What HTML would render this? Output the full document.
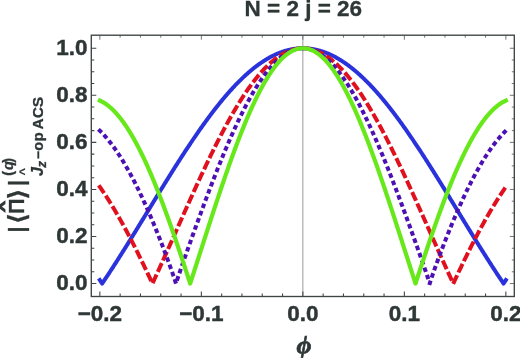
<!DOCTYPE html>
<html><head><meta charset="utf-8"><style>html,body{margin:0;padding:0;background:#fff;}svg{display:block;}</style></head>
<body><svg width="520" height="358" viewBox="0 0 520 358"><line x1="302.85" y1="35.2" x2="302.85" y2="296.5" stroke="#999" stroke-width="1"/><polyline points="99.85,280.10 100.36,280.85 100.87,281.60 101.37,282.35 101.88,283.10 102.18,283.55 102.39,283.25 102.90,282.49 103.40,281.74 103.91,280.98 104.42,280.22 104.93,279.46 105.43,278.69 105.94,277.93 106.45,277.16 106.96,276.39 107.46,275.62 107.97,274.85 108.48,274.08 108.99,273.31 109.49,272.53 110.00,271.75 110.51,270.98 111.02,270.20 111.52,269.42 112.03,268.63 112.54,267.85 113.05,267.07 113.55,266.28 114.06,265.49 114.57,264.70 115.08,263.91 115.58,263.12 116.09,262.33 116.60,261.54 117.11,260.74 117.61,259.95 118.12,259.15 118.63,258.35 119.13,257.55 119.64,256.75 120.15,255.95 120.66,255.15 121.16,254.35 121.67,253.54 122.18,252.74 122.69,251.93 123.19,251.12 123.70,250.31 124.21,249.51 124.72,248.70 125.22,247.88 125.73,247.07 126.24,246.26 126.75,245.45 127.25,244.63 127.76,243.82 128.27,243.00 128.78,242.18 129.28,241.37 129.79,240.55 130.30,239.73 130.81,238.91 131.31,238.09 131.82,237.27 132.33,236.45 132.84,235.63 133.34,234.80 133.85,233.98 134.36,233.16 134.87,232.33 135.38,231.51 135.88,230.68 136.39,229.86 136.90,229.03 137.41,228.20 137.91,227.38 138.42,226.55 138.93,225.72 139.44,224.89 139.94,224.07 140.45,223.24 140.96,222.41 141.47,221.58 141.97,220.75 142.48,219.92 142.99,219.09 143.50,218.26 144.00,217.43 144.51,216.60 145.02,215.77 145.53,214.94 146.03,214.11 146.54,213.27 147.05,212.44 147.56,211.61 148.06,210.78 148.57,209.95 149.08,209.12 149.59,208.29 150.09,207.46 150.60,206.63 151.11,205.80 151.62,204.96 152.12,204.13 152.63,203.30 153.14,202.47 153.65,201.64 154.15,200.81 154.66,199.98 155.17,199.16 155.68,198.33 156.18,197.50 156.69,196.67 157.20,195.84 157.71,195.01 158.21,194.19 158.72,193.36 159.23,192.53 159.74,191.71 160.24,190.88 160.75,190.06 161.26,189.23 161.77,188.41 162.27,187.59 162.78,186.76 163.29,185.94 163.80,185.12 164.30,184.30 164.81,183.48 165.32,182.66 165.83,181.84 166.33,181.02 166.84,180.21 167.35,179.39 167.86,178.57 168.36,177.76 168.87,176.95 169.38,176.13 169.89,175.32 170.39,174.51 170.90,173.70 171.41,172.89 171.92,172.08 172.42,171.27 172.93,170.47 173.44,169.66 173.95,168.86 174.45,168.05 174.96,167.25 175.47,166.45 175.98,165.65 176.48,164.85 176.99,164.05 177.50,163.25 178.00,162.46 178.51,161.66 179.02,160.87 179.53,160.08 180.04,159.29 180.54,158.50 181.05,157.71 181.56,156.92 182.06,156.14 182.57,155.36 183.08,154.57 183.59,153.79 184.10,153.01 184.60,152.23 185.11,151.46 185.62,150.68 186.12,149.91 186.63,149.14 187.14,148.37 187.65,147.60 188.16,146.83 188.66,146.07 189.17,145.30 189.68,144.54 190.19,143.78 190.69,143.02 191.20,142.26 191.71,141.51 192.22,140.75 192.72,140.00 193.23,139.25 193.74,138.50 194.25,137.76 194.75,137.01 195.26,136.27 195.77,135.53 196.28,134.79 196.78,134.06 197.29,133.32 197.80,132.59 198.31,131.86 198.81,131.13 199.32,130.40 199.83,129.68 200.34,128.96 200.84,128.24 201.35,127.52 201.86,126.80 202.37,126.09 202.87,125.38 203.38,124.67 203.89,123.96 204.40,123.25 204.90,122.55 205.41,121.85 205.92,121.15 206.43,120.46 206.93,119.76 207.44,119.07 207.95,118.38 208.46,117.70 208.96,117.01 209.47,116.33 209.98,115.65 210.49,114.98 210.99,114.30 211.50,113.63 212.01,112.96 212.52,112.29 213.02,111.63 213.53,110.97 214.04,110.31 214.55,109.65 215.05,109.00 215.56,108.35 216.07,107.70 216.58,107.06 217.08,106.41 217.59,105.77 218.10,105.14 218.61,104.50 219.11,103.87 219.62,103.24 220.13,102.61 220.64,101.99 221.14,101.37 221.65,100.75 222.16,100.14 222.67,99.53 223.17,98.92 223.68,98.31 224.19,97.71 224.69,97.11 225.20,96.51 225.71,95.92 226.22,95.33 226.73,94.74 227.23,94.15 227.74,93.57 228.25,92.99 228.75,92.42 229.26,91.84 229.77,91.27 230.28,90.71 230.79,90.14 231.29,89.58 231.80,89.03 232.31,88.47 232.81,87.92 233.32,87.38 233.83,86.83 234.34,86.29 234.85,85.75 235.35,85.22 235.86,84.69 236.37,84.16 236.88,83.64 237.38,83.12 237.89,82.60 238.40,82.09 238.91,81.58 239.41,81.07 239.92,80.56 240.43,80.06 240.94,79.57 241.44,79.07 241.95,78.58 242.46,78.10 242.97,77.61 243.47,77.14 243.98,76.66 244.49,76.19 245.00,75.72 245.50,75.25 246.01,74.79 246.52,74.33 247.03,73.88 247.53,73.43 248.04,72.98 248.55,72.54 249.06,72.10 249.56,71.66 250.07,71.23 250.58,70.80 251.09,70.38 251.59,69.96 252.10,69.54 252.61,69.12 253.12,68.71 253.62,68.31 254.13,67.91 254.64,67.51 255.15,67.11 255.65,66.72 256.16,66.33 256.67,65.95 257.18,65.57 257.68,65.20 258.19,64.82 258.70,64.46 259.21,64.09 259.71,63.73 260.22,63.38 260.73,63.02 261.24,62.68 261.74,62.33 262.25,61.99 262.76,61.66 263.26,61.32 263.77,60.99 264.28,60.67 264.79,60.35 265.30,60.03 265.80,59.72 266.31,59.41 266.82,59.11 267.33,58.81 267.83,58.51 268.34,58.22 268.85,57.93 269.36,57.65 269.86,57.37 270.37,57.09 270.88,56.82 271.39,56.55 271.89,56.29 272.40,56.03 272.91,55.78 273.42,55.53 273.92,55.28 274.43,55.04 274.94,54.80 275.45,54.56 275.95,54.33 276.46,54.11 276.97,53.89 277.48,53.67 277.98,53.45 278.49,53.25 279.00,53.04 279.50,52.84 280.01,52.64 280.52,52.45 281.03,52.26 281.54,52.08 282.04,51.90 282.55,51.73 283.06,51.55 283.56,51.39 284.07,51.23 284.58,51.07 285.09,50.91 285.60,50.76 286.10,50.62 286.61,50.48 287.12,50.34 287.62,50.21 288.13,50.08 288.64,49.96 289.15,49.84 289.66,49.72 290.16,49.61 290.67,49.50 291.18,49.40 291.69,49.30 292.19,49.21 292.70,49.12 293.21,49.04 293.72,48.96 294.22,48.88 294.73,48.81 295.24,48.74 295.75,48.68 296.25,48.62 296.76,48.56 297.27,48.51 297.78,48.47 298.28,48.43 298.79,48.39 299.30,48.36 299.81,48.33 300.31,48.30 300.82,48.28 301.33,48.27 301.84,48.26 302.34,48.25 302.85,48.25 303.36,48.25 303.87,48.26 304.37,48.27 304.88,48.28 305.39,48.30 305.90,48.33 306.40,48.36 306.91,48.39 307.42,48.43 307.93,48.47 308.43,48.51 308.94,48.56 309.45,48.62 309.96,48.68 310.46,48.74 310.97,48.81 311.48,48.88 311.99,48.96 312.49,49.04 313.00,49.12 313.51,49.21 314.01,49.30 314.52,49.40 315.03,49.50 315.54,49.61 316.05,49.72 316.55,49.84 317.06,49.96 317.57,50.08 318.07,50.21 318.58,50.34 319.09,50.48 319.60,50.62 320.11,50.76 320.61,50.91 321.12,51.07 321.63,51.23 322.13,51.39 322.64,51.55 323.15,51.73 323.66,51.90 324.17,52.08 324.67,52.26 325.18,52.45 325.69,52.64 326.19,52.84 326.70,53.04 327.21,53.25 327.72,53.45 328.23,53.67 328.73,53.89 329.24,54.11 329.75,54.33 330.25,54.56 330.76,54.80 331.27,55.04 331.78,55.28 332.29,55.53 332.79,55.78 333.30,56.03 333.81,56.29 334.31,56.55 334.82,56.82 335.33,57.09 335.84,57.37 336.35,57.65 336.85,57.93 337.36,58.22 337.87,58.51 338.38,58.81 338.88,59.11 339.39,59.41 339.90,59.72 340.41,60.03 340.91,60.35 341.42,60.67 341.93,60.99 342.44,61.32 342.94,61.66 343.45,61.99 343.96,62.33 344.47,62.68 344.97,63.02 345.48,63.38 345.99,63.73 346.50,64.09 347.00,64.46 347.51,64.82 348.02,65.20 348.52,65.57 349.03,65.95 349.54,66.33 350.05,66.72 350.56,67.11 351.06,67.51 351.57,67.91 352.08,68.31 352.59,68.71 353.09,69.12 353.60,69.54 354.11,69.96 354.62,70.38 355.12,70.80 355.63,71.23 356.14,71.66 356.65,72.10 357.15,72.54 357.66,72.98 358.17,73.43 358.68,73.88 359.18,74.33 359.69,74.79 360.20,75.25 360.71,75.72 361.21,76.19 361.72,76.66 362.23,77.14 362.74,77.61 363.24,78.10 363.75,78.58 364.26,79.07 364.77,79.57 365.27,80.06 365.78,80.56 366.29,81.07 366.80,81.58 367.30,82.09 367.81,82.60 368.32,83.12 368.83,83.64 369.33,84.16 369.84,84.69 370.35,85.22 370.86,85.75 371.36,86.29 371.87,86.83 372.38,87.38 372.89,87.92 373.39,88.47 373.90,89.03 374.41,89.58 374.92,90.14 375.42,90.71 375.93,91.27 376.44,91.84 376.95,92.42 377.45,92.99 377.96,93.57 378.47,94.15 378.98,94.74 379.48,95.33 379.99,95.92 380.50,96.51 381.01,97.11 381.51,97.71 382.02,98.31 382.53,98.92 383.04,99.53 383.54,100.14 384.05,100.75 384.56,101.37 385.07,101.99 385.57,102.61 386.08,103.24 386.59,103.87 387.10,104.50 387.60,105.14 388.11,105.77 388.62,106.41 389.13,107.06 389.63,107.70 390.14,108.35 390.65,109.00 391.16,109.65 391.66,110.31 392.17,110.97 392.68,111.63 393.19,112.29 393.69,112.96 394.20,113.63 394.71,114.30 395.21,114.98 395.72,115.65 396.23,116.33 396.74,117.01 397.25,117.70 397.75,118.38 398.26,119.07 398.77,119.76 399.27,120.46 399.78,121.15 400.29,121.85 400.80,122.55 401.31,123.25 401.81,123.96 402.32,124.67 402.83,125.38 403.33,126.09 403.84,126.80 404.35,127.52 404.86,128.24 405.37,128.96 405.87,129.68 406.38,130.40 406.89,131.13 407.39,131.86 407.90,132.59 408.41,133.32 408.92,134.06 409.43,134.79 409.93,135.53 410.44,136.27 410.95,137.01 411.46,137.76 411.96,138.50 412.47,139.25 412.98,140.00 413.49,140.75 413.99,141.51 414.50,142.26 415.01,143.02 415.51,143.78 416.02,144.54 416.53,145.30 417.04,146.07 417.55,146.83 418.05,147.60 418.56,148.37 419.07,149.14 419.58,149.91 420.08,150.68 420.59,151.46 421.10,152.23 421.61,153.01 422.11,153.79 422.62,154.57 423.13,155.36 423.63,156.14 424.14,156.92 424.65,157.71 425.16,158.50 425.67,159.29 426.17,160.08 426.68,160.87 427.19,161.66 427.70,162.46 428.20,163.25 428.71,164.05 429.22,164.85 429.73,165.65 430.23,166.45 430.74,167.25 431.25,168.05 431.75,168.86 432.26,169.66 432.77,170.47 433.28,171.27 433.79,172.08 434.29,172.89 434.80,173.70 435.31,174.51 435.82,175.32 436.32,176.13 436.83,176.95 437.34,177.76 437.85,178.57 438.35,179.39 438.86,180.21 439.37,181.02 439.88,181.84 440.38,182.66 440.89,183.48 441.40,184.30 441.91,185.12 442.41,185.94 442.92,186.76 443.43,187.59 443.94,188.41 444.44,189.23 444.95,190.06 445.46,190.88 445.97,191.71 446.47,192.53 446.98,193.36 447.49,194.19 448.00,195.01 448.50,195.84 449.01,196.67 449.52,197.50 450.03,198.33 450.53,199.16 451.04,199.98 451.55,200.81 452.06,201.64 452.56,202.47 453.07,203.30 453.58,204.13 454.09,204.96 454.59,205.80 455.10,206.63 455.61,207.46 456.12,208.29 456.62,209.12 457.13,209.95 457.64,210.78 458.14,211.61 458.65,212.44 459.16,213.27 459.67,214.11 460.17,214.94 460.68,215.77 461.19,216.60 461.70,217.43 462.20,218.26 462.71,219.09 463.22,219.92 463.73,220.75 464.24,221.58 464.74,222.41 465.25,223.24 465.76,224.07 466.26,224.89 466.77,225.72 467.28,226.55 467.79,227.38 468.29,228.20 468.80,229.03 469.31,229.86 469.82,230.68 470.32,231.51 470.83,232.33 471.34,233.16 471.85,233.98 472.36,234.80 472.86,235.63 473.37,236.45 473.88,237.27 474.38,238.09 474.89,238.91 475.40,239.73 475.91,240.55 476.42,241.37 476.92,242.18 477.43,243.00 477.94,243.82 478.45,244.63 478.95,245.45 479.46,246.26 479.97,247.07 480.48,247.88 480.98,248.70 481.49,249.51 482.00,250.31 482.50,251.12 483.01,251.93 483.52,252.74 484.03,253.54 484.54,254.35 485.04,255.15 485.55,255.95 486.06,256.75 486.57,257.55 487.07,258.35 487.58,259.15 488.09,259.95 488.60,260.74 489.10,261.54 489.61,262.33 490.12,263.12 490.62,263.91 491.13,264.70 491.64,265.49 492.15,266.28 492.66,267.07 493.16,267.85 493.67,268.63 494.18,269.42 494.69,270.20 495.19,270.98 495.70,271.75 496.21,272.53 496.72,273.31 497.22,274.08 497.73,274.85 498.24,275.62 498.75,276.39 499.25,277.16 499.76,277.93 500.27,278.69 500.78,279.46 501.28,280.22 501.79,280.98 502.30,281.74 502.81,282.49 503.31,283.25 503.52,283.55 503.82,283.10 504.33,282.35 504.84,281.60 505.34,280.85 505.85,280.10" fill="none" stroke="#2a32dc" stroke-width="4.0" stroke-linejoin="round" stroke-linecap="square"/><polyline points="99.85,186.96 100.36,187.68 100.87,188.41 101.37,189.14 101.88,189.88 102.39,190.62 102.90,191.37 103.40,192.12 103.91,192.88 104.42,193.64 104.93,194.41 105.43,195.18 105.94,195.95 106.45,196.73 106.96,197.52 107.46,198.31 107.97,199.10 108.48,199.90 108.99,200.70 109.49,201.51 110.00,202.32 110.51,203.14 111.02,203.96 111.52,204.79 112.03,205.62 112.54,206.45 113.05,207.29 113.55,208.13 114.06,208.98 114.57,209.83 115.08,210.69 115.58,211.55 116.09,212.41 116.60,213.28 117.11,214.16 117.61,215.03 118.12,215.92 118.63,216.80 119.13,217.69 119.64,218.58 120.15,219.48 120.66,220.38 121.16,221.29 121.67,222.20 122.18,223.11 122.69,224.03 123.19,224.95 123.70,225.88 124.21,226.81 124.72,227.74 125.22,228.68 125.73,229.62 126.24,230.56 126.75,231.51 127.25,232.46 127.76,233.41 128.27,234.37 128.78,235.33 129.28,236.30 129.79,237.27 130.30,238.24 130.81,239.22 131.31,240.20 131.82,241.18 132.33,242.17 132.84,243.16 133.34,244.15 133.85,245.15 134.36,246.15 134.87,247.15 135.38,248.15 135.88,249.16 136.39,250.17 136.90,251.19 137.41,252.21 137.91,253.23 138.42,254.25 138.93,255.28 139.44,256.31 139.94,257.34 140.45,258.38 140.96,259.42 141.47,260.46 141.97,261.50 142.48,262.55 142.99,263.60 143.50,264.65 144.00,265.70 144.51,266.76 145.02,267.82 145.53,268.88 146.03,269.94 146.54,271.01 147.05,272.08 147.56,273.15 148.06,274.23 148.57,275.30 149.08,276.38 149.59,277.46 150.09,278.54 150.60,279.63 151.11,280.71 151.62,281.80 152.12,282.89 152.43,283.55 152.63,283.11 153.14,282.02 153.65,280.92 154.15,279.82 154.66,278.72 155.17,277.62 155.68,276.52 156.18,275.41 156.69,274.30 157.20,273.19 157.71,272.08 158.21,270.97 158.72,269.86 159.23,268.74 159.74,267.63 160.24,266.51 160.75,265.39 161.26,264.27 161.77,263.15 162.27,262.03 162.78,260.90 163.29,259.78 163.80,258.65 164.30,257.52 164.81,256.40 165.32,255.27 165.83,254.14 166.33,253.00 166.84,251.87 167.35,250.74 167.86,249.61 168.36,248.47 168.87,247.34 169.38,246.20 169.89,245.06 170.39,243.93 170.90,242.79 171.41,241.65 171.92,240.51 172.42,239.38 172.93,238.24 173.44,237.10 173.95,235.96 174.45,234.82 174.96,233.68 175.47,232.54 175.98,231.40 176.48,230.26 176.99,229.12 177.50,227.98 178.00,226.84 178.51,225.70 179.02,224.56 179.53,223.42 180.04,222.28 180.54,221.14 181.05,220.00 181.56,218.86 182.06,217.72 182.57,216.58 183.08,215.45 183.59,214.31 184.10,213.17 184.60,212.04 185.11,210.90 185.62,209.77 186.12,208.63 186.63,207.50 187.14,206.37 187.65,205.24 188.16,204.11 188.66,202.98 189.17,201.85 189.68,200.73 190.19,199.60 190.69,198.48 191.20,197.35 191.71,196.23 192.22,195.11 192.72,193.99 193.23,192.87 193.74,191.75 194.25,190.64 194.75,189.53 195.26,188.41 195.77,187.30 196.28,186.19 196.78,185.09 197.29,183.98 197.80,182.88 198.31,181.77 198.81,180.67 199.32,179.58 199.83,178.48 200.34,177.38 200.84,176.29 201.35,175.20 201.86,174.11 202.37,173.03 202.87,171.94 203.38,170.86 203.89,169.78 204.40,168.70 204.90,167.63 205.41,166.56 205.92,165.49 206.43,164.42 206.93,163.35 207.44,162.29 207.95,161.23 208.46,160.17 208.96,159.12 209.47,158.07 209.98,157.02 210.49,155.97 210.99,154.93 211.50,153.89 212.01,152.85 212.52,151.82 213.02,150.79 213.53,149.76 214.04,148.73 214.55,147.71 215.05,146.69 215.56,145.68 216.07,144.66 216.58,143.65 217.08,142.65 217.59,141.65 218.10,140.65 218.61,139.65 219.11,138.66 219.62,137.67 220.13,136.69 220.64,135.71 221.14,134.73 221.65,133.75 222.16,132.79 222.67,131.82 223.17,130.86 223.68,129.90 224.19,128.94 224.69,127.99 225.20,127.05 225.71,126.10 226.22,125.17 226.73,124.23 227.23,123.30 227.74,122.38 228.25,121.45 228.75,120.54 229.26,119.62 229.77,118.71 230.28,117.81 230.79,116.91 231.29,116.01 231.80,115.12 232.31,114.24 232.81,113.35 233.32,112.48 233.83,111.60 234.34,110.73 234.85,109.87 235.35,109.01 235.86,108.16 236.37,107.31 236.88,106.46 237.38,105.62 237.89,104.79 238.40,103.96 238.91,103.14 239.41,102.32 239.92,101.50 240.43,100.69 240.94,99.89 241.44,99.09 241.95,98.29 242.46,97.51 242.97,96.72 243.47,95.94 243.98,95.17 244.49,94.40 245.00,93.64 245.50,92.88 246.01,92.13 246.52,91.39 247.03,90.65 247.53,89.91 248.04,89.18 248.55,88.46 249.06,87.74 249.56,87.03 250.07,86.32 250.58,85.62 251.09,84.92 251.59,84.23 252.10,83.55 252.61,82.87 253.12,82.20 253.62,81.53 254.13,80.87 254.64,80.22 255.15,79.57 255.65,78.93 256.16,78.29 256.67,77.66 257.18,77.04 257.68,76.42 258.19,75.81 258.70,75.20 259.21,74.60 259.71,74.01 260.22,73.42 260.73,72.84 261.24,72.26 261.74,71.69 262.25,71.13 262.76,70.58 263.26,70.03 263.77,69.48 264.28,68.95 264.79,68.42 265.30,67.89 265.80,67.37 266.31,66.86 266.82,66.36 267.33,65.86 267.83,65.37 268.34,64.89 268.85,64.41 269.36,63.94 269.86,63.47 270.37,63.01 270.88,62.56 271.39,62.12 271.89,61.68 272.40,61.25 272.91,60.82 273.42,60.41 273.92,60.00 274.43,59.59 274.94,59.20 275.45,58.80 275.95,58.42 276.46,58.04 276.97,57.68 277.48,57.31 277.98,56.96 278.49,56.61 279.00,56.27 279.50,55.93 280.01,55.60 280.52,55.28 281.03,54.97 281.54,54.66 282.04,54.36 282.55,54.07 283.06,53.78 283.56,53.50 284.07,53.23 284.58,52.97 285.09,52.71 285.60,52.46 286.10,52.22 286.61,51.98 287.12,51.75 287.62,51.53 288.13,51.32 288.64,51.11 289.15,50.91 289.66,50.72 290.16,50.53 290.67,50.35 291.18,50.18 291.69,50.02 292.19,49.86 292.70,49.71 293.21,49.57 293.72,49.43 294.22,49.31 294.73,49.19 295.24,49.07 295.75,48.97 296.25,48.87 296.76,48.78 297.27,48.69 297.78,48.62 298.28,48.55 298.79,48.48 299.30,48.43 299.81,48.38 300.31,48.34 300.82,48.31 301.33,48.28 301.84,48.26 302.34,48.25 302.85,48.25 303.36,48.25 303.87,48.26 304.37,48.28 304.88,48.31 305.39,48.34 305.90,48.38 306.40,48.43 306.91,48.48 307.42,48.55 307.93,48.62 308.43,48.69 308.94,48.78 309.45,48.87 309.96,48.97 310.46,49.07 310.97,49.19 311.48,49.31 311.99,49.43 312.49,49.57 313.00,49.71 313.51,49.86 314.01,50.02 314.52,50.18 315.03,50.35 315.54,50.53 316.05,50.72 316.55,50.91 317.06,51.11 317.57,51.32 318.07,51.53 318.58,51.75 319.09,51.98 319.60,52.22 320.11,52.46 320.61,52.71 321.12,52.97 321.63,53.23 322.13,53.50 322.64,53.78 323.15,54.07 323.66,54.36 324.17,54.66 324.67,54.97 325.18,55.28 325.69,55.60 326.19,55.93 326.70,56.27 327.21,56.61 327.72,56.96 328.23,57.31 328.73,57.68 329.24,58.04 329.75,58.42 330.25,58.80 330.76,59.20 331.27,59.59 331.78,60.00 332.29,60.41 332.79,60.82 333.30,61.25 333.81,61.68 334.31,62.12 334.82,62.56 335.33,63.01 335.84,63.47 336.35,63.94 336.85,64.41 337.36,64.89 337.87,65.37 338.38,65.86 338.88,66.36 339.39,66.86 339.90,67.37 340.41,67.89 340.91,68.42 341.42,68.95 341.93,69.48 342.44,70.03 342.94,70.58 343.45,71.13 343.96,71.69 344.47,72.26 344.97,72.84 345.48,73.42 345.99,74.01 346.50,74.60 347.00,75.20 347.51,75.81 348.02,76.42 348.52,77.04 349.03,77.66 349.54,78.29 350.05,78.93 350.56,79.57 351.06,80.22 351.57,80.87 352.08,81.53 352.59,82.20 353.09,82.87 353.60,83.55 354.11,84.23 354.62,84.92 355.12,85.62 355.63,86.32 356.14,87.03 356.65,87.74 357.15,88.46 357.66,89.18 358.17,89.91 358.68,90.65 359.18,91.39 359.69,92.13 360.20,92.88 360.71,93.64 361.21,94.40 361.72,95.17 362.23,95.94 362.74,96.72 363.24,97.51 363.75,98.29 364.26,99.09 364.77,99.89 365.27,100.69 365.78,101.50 366.29,102.32 366.80,103.14 367.30,103.96 367.81,104.79 368.32,105.62 368.83,106.46 369.33,107.31 369.84,108.16 370.35,109.01 370.86,109.87 371.36,110.73 371.87,111.60 372.38,112.48 372.89,113.35 373.39,114.24 373.90,115.12 374.41,116.01 374.92,116.91 375.42,117.81 375.93,118.71 376.44,119.62 376.95,120.54 377.45,121.45 377.96,122.38 378.47,123.30 378.98,124.23 379.48,125.17 379.99,126.10 380.50,127.05 381.01,127.99 381.51,128.94 382.02,129.90 382.53,130.86 383.04,131.82 383.54,132.79 384.05,133.75 384.56,134.73 385.07,135.71 385.57,136.69 386.08,137.67 386.59,138.66 387.10,139.65 387.60,140.65 388.11,141.65 388.62,142.65 389.13,143.65 389.63,144.66 390.14,145.68 390.65,146.69 391.16,147.71 391.66,148.73 392.17,149.76 392.68,150.79 393.19,151.82 393.69,152.85 394.20,153.89 394.71,154.93 395.21,155.97 395.72,157.02 396.23,158.07 396.74,159.12 397.25,160.17 397.75,161.23 398.26,162.29 398.77,163.35 399.27,164.42 399.78,165.49 400.29,166.56 400.80,167.63 401.31,168.70 401.81,169.78 402.32,170.86 402.83,171.94 403.33,173.03 403.84,174.11 404.35,175.20 404.86,176.29 405.37,177.38 405.87,178.48 406.38,179.58 406.89,180.67 407.39,181.77 407.90,182.88 408.41,183.98 408.92,185.09 409.43,186.19 409.93,187.30 410.44,188.41 410.95,189.53 411.46,190.64 411.96,191.75 412.47,192.87 412.98,193.99 413.49,195.11 413.99,196.23 414.50,197.35 415.01,198.48 415.51,199.60 416.02,200.73 416.53,201.85 417.04,202.98 417.55,204.11 418.05,205.24 418.56,206.37 419.07,207.50 419.58,208.63 420.08,209.77 420.59,210.90 421.10,212.04 421.61,213.17 422.11,214.31 422.62,215.45 423.13,216.58 423.63,217.72 424.14,218.86 424.65,220.00 425.16,221.14 425.67,222.28 426.17,223.42 426.68,224.56 427.19,225.70 427.70,226.84 428.20,227.98 428.71,229.12 429.22,230.26 429.73,231.40 430.23,232.54 430.74,233.68 431.25,234.82 431.75,235.96 432.26,237.10 432.77,238.24 433.28,239.38 433.79,240.51 434.29,241.65 434.80,242.79 435.31,243.93 435.82,245.06 436.32,246.20 436.83,247.34 437.34,248.47 437.85,249.61 438.35,250.74 438.86,251.87 439.37,253.00 439.88,254.14 440.38,255.27 440.89,256.40 441.40,257.52 441.91,258.65 442.41,259.78 442.92,260.90 443.43,262.03 443.94,263.15 444.44,264.27 444.95,265.39 445.46,266.51 445.97,267.63 446.47,268.74 446.98,269.86 447.49,270.97 448.00,272.08 448.50,273.19 449.01,274.30 449.52,275.41 450.03,276.52 450.53,277.62 451.04,278.72 451.55,279.82 452.06,280.92 452.56,282.02 453.07,283.11 453.27,283.55 453.58,282.89 454.09,281.80 454.59,280.71 455.10,279.63 455.61,278.54 456.12,277.46 456.62,276.38 457.13,275.30 457.64,274.23 458.14,273.15 458.65,272.08 459.16,271.01 459.67,269.94 460.17,268.88 460.68,267.82 461.19,266.76 461.70,265.70 462.20,264.65 462.71,263.60 463.22,262.55 463.73,261.50 464.24,260.46 464.74,259.42 465.25,258.38 465.76,257.34 466.26,256.31 466.77,255.28 467.28,254.25 467.79,253.23 468.29,252.21 468.80,251.19 469.31,250.17 469.82,249.16 470.32,248.15 470.83,247.15 471.34,246.15 471.85,245.15 472.36,244.15 472.86,243.16 473.37,242.17 473.88,241.18 474.38,240.20 474.89,239.22 475.40,238.24 475.91,237.27 476.42,236.30 476.92,235.33 477.43,234.37 477.94,233.41 478.45,232.46 478.95,231.51 479.46,230.56 479.97,229.62 480.48,228.68 480.98,227.74 481.49,226.81 482.00,225.88 482.50,224.95 483.01,224.03 483.52,223.11 484.03,222.20 484.54,221.29 485.04,220.38 485.55,219.48 486.06,218.58 486.57,217.69 487.07,216.80 487.58,215.92 488.09,215.03 488.60,214.16 489.10,213.28 489.61,212.41 490.12,211.55 490.62,210.69 491.13,209.83 491.64,208.98 492.15,208.13 492.66,207.29 493.16,206.45 493.67,205.62 494.18,204.79 494.69,203.96 495.19,203.14 495.70,202.32 496.21,201.51 496.72,200.70 497.22,199.90 497.73,199.10 498.24,198.31 498.75,197.52 499.25,196.73 499.76,195.95 500.27,195.18 500.78,194.41 501.28,193.64 501.79,192.88 502.30,192.12 502.81,191.37 503.31,190.62 503.82,189.88 504.33,189.14 504.84,188.41 505.34,187.68 505.85,186.96" fill="none" stroke="#e0101e" stroke-width="4.0" stroke-linejoin="round" stroke-linecap="square" stroke-dasharray="5.5 7.0"/><polyline points="99.85,130.71 100.36,131.21 100.87,131.71 101.37,132.23 101.88,132.75 102.39,133.28 102.90,133.82 103.40,134.37 103.91,134.92 104.42,135.48 104.93,136.05 105.43,136.62 105.94,137.21 106.45,137.80 106.96,138.40 107.46,139.00 107.97,139.62 108.48,140.24 108.99,140.87 109.49,141.50 110.00,142.15 110.51,142.80 111.02,143.46 111.52,144.12 112.03,144.80 112.54,145.48 113.05,146.17 113.55,146.87 114.06,147.57 114.57,148.28 115.08,149.00 115.58,149.73 116.09,150.46 116.60,151.20 117.11,151.95 117.61,152.70 118.12,153.47 118.63,154.24 119.13,155.01 119.64,155.80 120.15,156.59 120.66,157.39 121.16,158.20 121.67,159.01 122.18,159.83 122.69,160.66 123.19,161.49 123.70,162.33 124.21,163.18 124.72,164.04 125.22,164.90 125.73,165.77 126.24,166.65 126.75,167.53 127.25,168.42 127.76,169.32 128.27,170.23 128.78,171.14 129.28,172.06 129.79,172.98 130.30,173.92 130.81,174.86 131.31,175.80 131.82,176.75 132.33,177.71 132.84,178.68 133.34,179.65 133.85,180.63 134.36,181.62 134.87,182.61 135.38,183.61 135.88,184.62 136.39,185.63 136.90,186.65 137.41,187.67 137.91,188.70 138.42,189.74 138.93,190.79 139.44,191.84 139.94,192.89 140.45,193.96 140.96,195.03 141.47,196.10 141.97,197.19 142.48,198.28 142.99,199.37 143.50,200.47 144.00,201.58 144.51,202.69 145.02,203.81 145.53,204.94 146.03,206.07 146.54,207.20 147.05,208.35 147.56,209.50 148.06,210.65 148.57,211.81 149.08,212.98 149.59,214.15 150.09,215.33 150.60,216.51 151.11,217.70 151.62,218.90 152.12,220.10 152.63,221.31 153.14,222.52 153.65,223.74 154.15,224.96 154.66,226.19 155.17,227.43 155.68,228.67 156.18,229.92 156.69,231.17 157.20,232.43 157.71,233.69 158.21,234.96 158.72,236.23 159.23,237.51 159.74,238.80 160.24,240.09 160.75,241.39 161.26,242.69 161.77,244.00 162.27,245.31 162.78,246.63 163.29,247.96 163.80,249.29 164.30,250.62 164.81,251.96 165.32,253.31 165.83,254.67 166.33,256.03 166.84,257.39 167.35,258.76 167.86,260.14 168.36,261.53 168.87,262.92 169.38,264.32 169.89,265.73 170.39,267.14 170.90,268.56 171.41,269.99 171.92,271.43 172.42,272.88 172.93,274.34 173.44,275.81 173.95,277.30 174.45,278.80 174.96,280.33 175.47,281.89 175.98,283.55 176.48,281.89 176.99,280.32 177.50,278.78 178.00,277.26 178.51,275.76 179.02,274.26 179.53,272.77 180.04,271.29 180.54,269.82 181.05,268.35 181.56,266.88 182.06,265.42 182.57,263.96 183.08,262.50 183.59,261.05 184.10,259.60 184.60,258.16 185.11,256.71 185.62,255.27 186.12,253.83 186.63,252.39 187.14,250.96 187.65,249.53 188.16,248.09 188.66,246.66 189.17,245.24 189.68,243.81 190.19,242.39 190.69,240.97 191.20,239.55 191.71,238.13 192.22,236.71 192.72,235.30 193.23,233.89 193.74,232.48 194.25,231.07 194.75,229.66 195.26,228.26 195.77,226.85 196.28,225.45 196.78,224.05 197.29,222.66 197.80,221.26 198.31,219.87 198.81,218.48 199.32,217.09 199.83,215.71 200.34,214.32 200.84,212.94 201.35,211.56 201.86,210.19 202.37,208.81 202.87,207.44 203.38,206.07 203.89,204.71 204.40,203.34 204.90,201.98 205.41,200.63 205.92,199.27 206.43,197.92 206.93,196.57 207.44,195.22 207.95,193.88 208.46,192.54 208.96,191.20 209.47,189.87 209.98,188.53 210.49,187.21 210.99,185.88 211.50,184.56 212.01,183.24 212.52,181.93 213.02,180.62 213.53,179.31 214.04,178.01 214.55,176.71 215.05,175.41 215.56,174.12 216.07,172.83 216.58,171.54 217.08,170.26 217.59,168.98 218.10,167.71 218.61,166.44 219.11,165.18 219.62,163.92 220.13,162.66 220.64,161.41 221.14,160.16 221.65,158.91 222.16,157.68 222.67,156.44 223.17,155.21 223.68,153.98 224.19,152.76 224.69,151.55 225.20,150.34 225.71,149.13 226.22,147.93 226.73,146.73 227.23,145.54 227.74,144.35 228.25,143.17 228.75,141.99 229.26,140.82 229.77,139.66 230.28,138.49 230.79,137.34 231.29,136.19 231.80,135.04 232.31,133.90 232.81,132.77 233.32,131.64 233.83,130.52 234.34,129.40 234.85,128.29 235.35,127.19 235.86,126.09 236.37,124.99 236.88,123.91 237.38,122.83 237.89,121.75 238.40,120.68 238.91,119.62 239.41,118.56 239.92,117.51 240.43,116.46 240.94,115.43 241.44,114.39 241.95,113.37 242.46,112.35 242.97,111.34 243.47,110.33 243.98,109.33 244.49,108.34 245.00,107.35 245.50,106.38 246.01,105.40 246.52,104.44 247.03,103.48 247.53,102.53 248.04,101.58 248.55,100.65 249.06,99.72 249.56,98.79 250.07,97.88 250.58,96.97 251.09,96.07 251.59,95.17 252.10,94.28 252.61,93.40 253.12,92.53 253.62,91.67 254.13,90.81 254.64,89.96 255.15,89.12 255.65,88.28 256.16,87.46 256.67,86.64 257.18,85.83 257.68,85.02 258.19,84.23 258.70,83.44 259.21,82.66 259.71,81.89 260.22,81.12 260.73,80.37 261.24,79.62 261.74,78.88 262.25,78.14 262.76,77.42 263.26,76.71 263.77,76.00 264.28,75.30 264.79,74.61 265.30,73.93 265.80,73.25 266.31,72.58 266.82,71.93 267.33,71.28 267.83,70.64 268.34,70.01 268.85,69.38 269.36,68.77 269.86,68.16 270.37,67.56 270.88,66.97 271.39,66.39 271.89,65.82 272.40,65.26 272.91,64.70 273.42,64.16 273.92,63.62 274.43,63.09 274.94,62.58 275.45,62.06 275.95,61.56 276.46,61.07 276.97,60.59 277.48,60.11 277.98,59.65 278.49,59.19 279.00,58.75 279.50,58.31 280.01,57.88 280.52,57.46 281.03,57.05 281.54,56.65 282.04,56.25 282.55,55.87 283.06,55.50 283.56,55.13 284.07,54.78 284.58,54.43 285.09,54.09 285.60,53.77 286.10,53.45 286.61,53.14 287.12,52.84 287.62,52.55 288.13,52.27 288.64,52.00 289.15,51.73 289.66,51.48 290.16,51.24 290.67,51.00 291.18,50.78 291.69,50.57 292.19,50.36 292.70,50.16 293.21,49.98 293.72,49.80 294.22,49.63 294.73,49.48 295.24,49.33 295.75,49.19 296.25,49.06 296.76,48.94 297.27,48.83 297.78,48.73 298.28,48.64 298.79,48.56 299.30,48.48 299.81,48.42 300.31,48.37 300.82,48.33 301.33,48.29 301.84,48.27 302.34,48.25 302.85,48.25 303.36,48.25 303.87,48.27 304.37,48.29 304.88,48.33 305.39,48.37 305.90,48.42 306.40,48.48 306.91,48.56 307.42,48.64 307.93,48.73 308.43,48.83 308.94,48.94 309.45,49.06 309.96,49.19 310.46,49.33 310.97,49.48 311.48,49.63 311.99,49.80 312.49,49.98 313.00,50.16 313.51,50.36 314.01,50.57 314.52,50.78 315.03,51.00 315.54,51.24 316.05,51.48 316.55,51.73 317.06,52.00 317.57,52.27 318.07,52.55 318.58,52.84 319.09,53.14 319.60,53.45 320.11,53.77 320.61,54.09 321.12,54.43 321.63,54.78 322.13,55.13 322.64,55.50 323.15,55.87 323.66,56.25 324.17,56.65 324.67,57.05 325.18,57.46 325.69,57.88 326.19,58.31 326.70,58.75 327.21,59.19 327.72,59.65 328.23,60.11 328.73,60.59 329.24,61.07 329.75,61.56 330.25,62.06 330.76,62.58 331.27,63.09 331.78,63.62 332.29,64.16 332.79,64.70 333.30,65.26 333.81,65.82 334.31,66.39 334.82,66.97 335.33,67.56 335.84,68.16 336.35,68.77 336.85,69.38 337.36,70.01 337.87,70.64 338.38,71.28 338.88,71.93 339.39,72.58 339.90,73.25 340.41,73.93 340.91,74.61 341.42,75.30 341.93,76.00 342.44,76.71 342.94,77.42 343.45,78.14 343.96,78.88 344.47,79.62 344.97,80.37 345.48,81.12 345.99,81.89 346.50,82.66 347.00,83.44 347.51,84.23 348.02,85.02 348.52,85.83 349.03,86.64 349.54,87.46 350.05,88.28 350.56,89.12 351.06,89.96 351.57,90.81 352.08,91.67 352.59,92.53 353.09,93.40 353.60,94.28 354.11,95.17 354.62,96.07 355.12,96.97 355.63,97.88 356.14,98.79 356.65,99.72 357.15,100.65 357.66,101.58 358.17,102.53 358.68,103.48 359.18,104.44 359.69,105.40 360.20,106.38 360.71,107.35 361.21,108.34 361.72,109.33 362.23,110.33 362.74,111.34 363.24,112.35 363.75,113.37 364.26,114.39 364.77,115.43 365.27,116.46 365.78,117.51 366.29,118.56 366.80,119.62 367.30,120.68 367.81,121.75 368.32,122.83 368.83,123.91 369.33,124.99 369.84,126.09 370.35,127.19 370.86,128.29 371.36,129.40 371.87,130.52 372.38,131.64 372.89,132.77 373.39,133.90 373.90,135.04 374.41,136.19 374.92,137.34 375.42,138.49 375.93,139.66 376.44,140.82 376.95,141.99 377.45,143.17 377.96,144.35 378.47,145.54 378.98,146.73 379.48,147.93 379.99,149.13 380.50,150.34 381.01,151.55 381.51,152.76 382.02,153.98 382.53,155.21 383.04,156.44 383.54,157.68 384.05,158.91 384.56,160.16 385.07,161.41 385.57,162.66 386.08,163.92 386.59,165.18 387.10,166.44 387.60,167.71 388.11,168.98 388.62,170.26 389.13,171.54 389.63,172.83 390.14,174.12 390.65,175.41 391.16,176.71 391.66,178.01 392.17,179.31 392.68,180.62 393.19,181.93 393.69,183.24 394.20,184.56 394.71,185.88 395.21,187.21 395.72,188.53 396.23,189.87 396.74,191.20 397.25,192.54 397.75,193.88 398.26,195.22 398.77,196.57 399.27,197.92 399.78,199.27 400.29,200.63 400.80,201.98 401.31,203.34 401.81,204.71 402.32,206.07 402.83,207.44 403.33,208.81 403.84,210.19 404.35,211.56 404.86,212.94 405.37,214.32 405.87,215.71 406.38,217.09 406.89,218.48 407.39,219.87 407.90,221.26 408.41,222.66 408.92,224.05 409.43,225.45 409.93,226.85 410.44,228.26 410.95,229.66 411.46,231.07 411.96,232.48 412.47,233.89 412.98,235.30 413.49,236.71 413.99,238.13 414.50,239.55 415.01,240.97 415.51,242.39 416.02,243.81 416.53,245.24 417.04,246.66 417.55,248.09 418.05,249.53 418.56,250.96 419.07,252.39 419.58,253.83 420.08,255.27 420.59,256.71 421.10,258.16 421.61,259.60 422.11,261.05 422.62,262.50 423.13,263.96 423.63,265.42 424.14,266.88 424.65,268.35 425.16,269.82 425.67,271.29 426.17,272.77 426.68,274.26 427.19,275.76 427.70,277.26 428.20,278.78 428.71,280.32 429.22,281.89 429.73,283.55 430.23,281.89 430.74,280.33 431.25,278.80 431.75,277.30 432.26,275.81 432.77,274.34 433.28,272.88 433.79,271.43 434.29,269.99 434.80,268.56 435.31,267.14 435.82,265.73 436.32,264.32 436.83,262.92 437.34,261.53 437.85,260.14 438.35,258.76 438.86,257.39 439.37,256.03 439.88,254.67 440.38,253.31 440.89,251.96 441.40,250.62 441.91,249.29 442.41,247.96 442.92,246.63 443.43,245.31 443.94,244.00 444.44,242.69 444.95,241.39 445.46,240.09 445.97,238.80 446.47,237.51 446.98,236.23 447.49,234.96 448.00,233.69 448.50,232.43 449.01,231.17 449.52,229.92 450.03,228.67 450.53,227.43 451.04,226.19 451.55,224.96 452.06,223.74 452.56,222.52 453.07,221.31 453.58,220.10 454.09,218.90 454.59,217.70 455.10,216.51 455.61,215.33 456.12,214.15 456.62,212.98 457.13,211.81 457.64,210.65 458.14,209.50 458.65,208.35 459.16,207.20 459.67,206.07 460.17,204.94 460.68,203.81 461.19,202.69 461.70,201.58 462.20,200.47 462.71,199.37 463.22,198.28 463.73,197.19 464.24,196.10 464.74,195.03 465.25,193.96 465.76,192.89 466.26,191.84 466.77,190.79 467.28,189.74 467.79,188.70 468.29,187.67 468.80,186.65 469.31,185.63 469.82,184.62 470.32,183.61 470.83,182.61 471.34,181.62 471.85,180.63 472.36,179.65 472.86,178.68 473.37,177.71 473.88,176.75 474.38,175.80 474.89,174.86 475.40,173.92 475.91,172.98 476.42,172.06 476.92,171.14 477.43,170.23 477.94,169.32 478.45,168.42 478.95,167.53 479.46,166.65 479.97,165.77 480.48,164.90 480.98,164.04 481.49,163.18 482.00,162.33 482.50,161.49 483.01,160.66 483.52,159.83 484.03,159.01 484.54,158.20 485.04,157.39 485.55,156.59 486.06,155.80 486.57,155.01 487.07,154.24 487.58,153.47 488.09,152.70 488.60,151.95 489.10,151.20 489.61,150.46 490.12,149.73 490.62,149.00 491.13,148.28 491.64,147.57 492.15,146.87 492.66,146.17 493.16,145.48 493.67,144.80 494.18,144.12 494.69,143.46 495.19,142.80 495.70,142.15 496.21,141.50 496.72,140.87 497.22,140.24 497.73,139.62 498.24,139.00 498.75,138.40 499.25,137.80 499.76,137.21 500.27,136.62 500.78,136.05 501.28,135.48 501.79,134.92 502.30,134.37 502.81,133.82 503.31,133.28 503.82,132.75 504.33,132.23 504.84,131.71 505.34,131.21 505.85,130.71" fill="none" stroke="#4c10b4" stroke-width="4.0" stroke-linejoin="round" stroke-linecap="square" stroke-dasharray="0.6 7.1"/><polyline points="99.85,100.53 100.36,100.77 100.87,101.01 101.37,101.27 101.88,101.54 102.39,101.82 102.90,102.11 103.40,102.41 103.91,102.71 104.42,103.03 104.93,103.36 105.43,103.70 105.94,104.05 106.45,104.41 106.96,104.79 107.46,105.17 107.97,105.56 108.48,105.96 108.99,106.37 109.49,106.79 110.00,107.23 110.51,107.67 111.02,108.12 111.52,108.59 112.03,109.06 112.54,109.55 113.05,110.04 113.55,110.54 114.06,111.06 114.57,111.58 115.08,112.12 115.58,112.66 116.09,113.22 116.60,113.78 117.11,114.36 117.61,114.95 118.12,115.54 118.63,116.15 119.13,116.76 119.64,117.39 120.15,118.03 120.66,118.67 121.16,119.33 121.67,119.99 122.18,120.67 122.69,121.36 123.19,122.05 123.70,122.76 124.21,123.47 124.72,124.20 125.22,124.93 125.73,125.68 126.24,126.43 126.75,127.20 127.25,127.97 127.76,128.76 128.27,129.55 128.78,130.35 129.28,131.17 129.79,131.99 130.30,132.82 130.81,133.66 131.31,134.51 131.82,135.37 132.33,136.24 132.84,137.12 133.34,138.01 133.85,138.90 134.36,139.81 134.87,140.73 135.38,141.65 135.88,142.58 136.39,143.53 136.90,144.48 137.41,145.44 137.91,146.41 138.42,147.39 138.93,148.38 139.44,149.37 139.94,150.38 140.45,151.39 140.96,152.42 141.47,153.45 141.97,154.49 142.48,155.54 142.99,156.59 143.50,157.66 144.00,158.73 144.51,159.81 145.02,160.90 145.53,162.00 146.03,163.11 146.54,164.22 147.05,165.35 147.56,166.48 148.06,167.62 148.57,168.76 149.08,169.92 149.59,171.08 150.09,172.25 150.60,173.43 151.11,174.62 151.62,175.81 152.12,177.01 152.63,178.22 153.14,179.44 153.65,180.66 154.15,181.89 154.66,183.13 155.17,184.37 155.68,185.62 156.18,186.88 156.69,188.15 157.20,189.42 157.71,190.70 158.21,191.99 158.72,193.28 159.23,194.58 159.74,195.89 160.24,197.20 160.75,198.52 161.26,199.85 161.77,201.18 162.27,202.52 162.78,203.86 163.29,205.21 163.80,206.57 164.30,207.93 164.81,209.30 165.32,210.67 165.83,212.05 166.33,213.44 166.84,214.83 167.35,216.23 167.86,217.63 168.36,219.04 168.87,220.45 169.38,221.87 169.89,223.29 170.39,224.72 170.90,226.16 171.41,227.60 171.92,229.04 172.42,230.49 172.93,231.94 173.44,233.40 173.95,234.86 174.45,236.33 174.96,237.80 175.47,239.27 175.98,240.75 176.48,242.23 176.99,243.72 177.50,245.21 178.00,246.71 178.51,248.21 179.02,249.71 179.53,251.22 180.04,252.73 180.54,254.24 181.05,255.76 181.56,257.28 182.06,258.80 182.57,260.33 183.08,261.86 183.59,263.39 184.10,264.93 184.60,266.47 185.11,268.01 185.62,269.55 186.12,271.10 186.63,272.65 187.14,274.20 187.65,275.75 188.16,277.31 188.66,278.86 189.17,280.42 189.68,281.99 190.19,283.55 190.19,283.55 190.69,281.98 191.20,280.42 191.71,278.85 192.22,277.28 192.72,275.71 193.23,274.13 193.74,272.56 194.25,270.99 194.75,269.41 195.26,267.83 195.77,266.25 196.28,264.68 196.78,263.10 197.29,261.52 197.80,259.94 198.31,258.36 198.81,256.77 199.32,255.19 199.83,253.61 200.34,252.03 200.84,250.45 201.35,248.87 201.86,247.29 202.37,245.70 202.87,244.12 203.38,242.54 203.89,240.96 204.40,239.39 204.90,237.81 205.41,236.23 205.92,234.66 206.43,233.08 206.93,231.51 207.44,229.93 207.95,228.36 208.46,226.79 208.96,225.23 209.47,223.66 209.98,222.09 210.49,220.53 210.99,218.97 211.50,217.41 212.01,215.85 212.52,214.30 213.02,212.75 213.53,211.20 214.04,209.65 214.55,208.10 215.05,206.56 215.56,205.02 216.07,203.48 216.58,201.95 217.08,200.42 217.59,198.89 218.10,197.36 218.61,195.84 219.11,194.32 219.62,192.81 220.13,191.30 220.64,189.79 221.14,188.28 221.65,186.78 222.16,185.29 222.67,183.79 223.17,182.31 223.68,180.82 224.19,179.34 224.69,177.87 225.20,176.40 225.71,174.93 226.22,173.47 226.73,172.01 227.23,170.56 227.74,169.11 228.25,167.67 228.75,166.23 229.26,164.80 229.77,163.37 230.28,161.95 230.79,160.53 231.29,159.12 231.80,157.71 232.31,156.31 232.81,154.92 233.32,153.53 233.83,152.15 234.34,150.77 234.85,149.40 235.35,148.04 235.86,146.68 236.37,145.33 236.88,143.98 237.38,142.64 237.89,141.31 238.40,139.98 238.91,138.66 239.41,137.35 239.92,136.05 240.43,134.75 240.94,133.46 241.44,132.17 241.95,130.89 242.46,129.62 242.97,128.36 243.47,127.11 243.98,125.86 244.49,124.62 245.00,123.39 245.50,122.16 246.01,120.94 246.52,119.74 247.03,118.53 247.53,117.34 248.04,116.16 248.55,114.98 249.06,113.81 249.56,112.65 250.07,111.50 250.58,110.36 251.09,109.22 251.59,108.10 252.10,106.98 252.61,105.87 253.12,104.77 253.62,103.68 254.13,102.60 254.64,101.52 255.15,100.46 255.65,99.40 256.16,98.36 256.67,97.32 257.18,96.29 257.68,95.28 258.19,94.27 258.70,93.27 259.21,92.28 259.71,91.30 260.22,90.33 260.73,89.37 261.24,88.42 261.74,87.48 262.25,86.55 262.76,85.63 263.26,84.72 263.77,83.82 264.28,82.93 264.79,82.05 265.30,81.18 265.80,80.32 266.31,79.47 266.82,78.63 267.33,77.80 267.83,76.99 268.34,76.18 268.85,75.38 269.36,74.60 269.86,73.82 270.37,73.06 270.88,72.30 271.39,71.56 271.89,70.83 272.40,70.11 272.91,69.40 273.42,68.70 273.92,68.01 274.43,67.34 274.94,66.67 275.45,66.02 275.95,65.38 276.46,64.75 276.97,64.13 277.48,63.52 277.98,62.92 278.49,62.34 279.00,61.76 279.50,61.20 280.01,60.65 280.52,60.11 281.03,59.58 281.54,59.06 282.04,58.56 282.55,58.07 283.06,57.59 283.56,57.12 284.07,56.66 284.58,56.21 285.09,55.78 285.60,55.36 286.10,54.95 286.61,54.55 287.12,54.17 287.62,53.79 288.13,53.43 288.64,53.08 289.15,52.74 289.66,52.42 290.16,52.10 290.67,51.80 291.18,51.51 291.69,51.24 292.19,50.97 292.70,50.72 293.21,50.48 293.72,50.25 294.22,50.04 294.73,49.83 295.24,49.64 295.75,49.46 296.25,49.29 296.76,49.14 297.27,49.00 297.78,48.87 298.28,48.75 298.79,48.65 299.30,48.55 299.81,48.47 300.31,48.40 300.82,48.35 301.33,48.31 301.84,48.27 302.34,48.26 302.85,48.25 303.36,48.26 303.87,48.27 304.37,48.31 304.88,48.35 305.39,48.40 305.90,48.47 306.40,48.55 306.91,48.65 307.42,48.75 307.93,48.87 308.43,49.00 308.94,49.14 309.45,49.29 309.96,49.46 310.46,49.64 310.97,49.83 311.48,50.04 311.99,50.25 312.49,50.48 313.00,50.72 313.51,50.97 314.01,51.24 314.52,51.51 315.03,51.80 315.54,52.10 316.05,52.42 316.55,52.74 317.06,53.08 317.57,53.43 318.07,53.79 318.58,54.17 319.09,54.55 319.60,54.95 320.11,55.36 320.61,55.78 321.12,56.21 321.63,56.66 322.13,57.12 322.64,57.59 323.15,58.07 323.66,58.56 324.17,59.06 324.67,59.58 325.18,60.11 325.69,60.65 326.19,61.20 326.70,61.76 327.21,62.34 327.72,62.92 328.23,63.52 328.73,64.13 329.24,64.75 329.75,65.38 330.25,66.02 330.76,66.67 331.27,67.34 331.78,68.01 332.29,68.70 332.79,69.40 333.30,70.11 333.81,70.83 334.31,71.56 334.82,72.30 335.33,73.06 335.84,73.82 336.35,74.60 336.85,75.38 337.36,76.18 337.87,76.99 338.38,77.80 338.88,78.63 339.39,79.47 339.90,80.32 340.41,81.18 340.91,82.05 341.42,82.93 341.93,83.82 342.44,84.72 342.94,85.63 343.45,86.55 343.96,87.48 344.47,88.42 344.97,89.37 345.48,90.33 345.99,91.30 346.50,92.28 347.00,93.27 347.51,94.27 348.02,95.28 348.52,96.29 349.03,97.32 349.54,98.36 350.05,99.40 350.56,100.46 351.06,101.52 351.57,102.60 352.08,103.68 352.59,104.77 353.09,105.87 353.60,106.98 354.11,108.10 354.62,109.22 355.12,110.36 355.63,111.50 356.14,112.65 356.65,113.81 357.15,114.98 357.66,116.16 358.17,117.34 358.68,118.53 359.18,119.74 359.69,120.94 360.20,122.16 360.71,123.39 361.21,124.62 361.72,125.86 362.23,127.11 362.74,128.36 363.24,129.62 363.75,130.89 364.26,132.17 364.77,133.46 365.27,134.75 365.78,136.05 366.29,137.35 366.80,138.66 367.30,139.98 367.81,141.31 368.32,142.64 368.83,143.98 369.33,145.33 369.84,146.68 370.35,148.04 370.86,149.40 371.36,150.77 371.87,152.15 372.38,153.53 372.89,154.92 373.39,156.31 373.90,157.71 374.41,159.12 374.92,160.53 375.42,161.95 375.93,163.37 376.44,164.80 376.95,166.23 377.45,167.67 377.96,169.11 378.47,170.56 378.98,172.01 379.48,173.47 379.99,174.93 380.50,176.40 381.01,177.87 381.51,179.34 382.02,180.82 382.53,182.31 383.04,183.79 383.54,185.29 384.05,186.78 384.56,188.28 385.07,189.79 385.57,191.30 386.08,192.81 386.59,194.32 387.10,195.84 387.60,197.36 388.11,198.89 388.62,200.42 389.13,201.95 389.63,203.48 390.14,205.02 390.65,206.56 391.16,208.10 391.66,209.65 392.17,211.20 392.68,212.75 393.19,214.30 393.69,215.85 394.20,217.41 394.71,218.97 395.21,220.53 395.72,222.09 396.23,223.66 396.74,225.23 397.25,226.79 397.75,228.36 398.26,229.93 398.77,231.51 399.27,233.08 399.78,234.66 400.29,236.23 400.80,237.81 401.31,239.39 401.81,240.96 402.32,242.54 402.83,244.12 403.33,245.70 403.84,247.29 404.35,248.87 404.86,250.45 405.37,252.03 405.87,253.61 406.38,255.19 406.89,256.77 407.39,258.36 407.90,259.94 408.41,261.52 408.92,263.10 409.43,264.68 409.93,266.25 410.44,267.83 410.95,269.41 411.46,270.99 411.96,272.56 412.47,274.13 412.98,275.71 413.49,277.28 413.99,278.85 414.50,280.42 415.01,281.98 415.51,283.55 415.52,283.55 416.02,281.99 416.53,280.42 417.04,278.86 417.55,277.31 418.05,275.75 418.56,274.20 419.07,272.65 419.58,271.10 420.08,269.55 420.59,268.01 421.10,266.47 421.61,264.93 422.11,263.39 422.62,261.86 423.13,260.33 423.63,258.80 424.14,257.28 424.65,255.76 425.16,254.24 425.67,252.73 426.17,251.22 426.68,249.71 427.19,248.21 427.70,246.71 428.20,245.21 428.71,243.72 429.22,242.23 429.73,240.75 430.23,239.27 430.74,237.80 431.25,236.33 431.75,234.86 432.26,233.40 432.77,231.94 433.28,230.49 433.79,229.04 434.29,227.60 434.80,226.16 435.31,224.72 435.82,223.29 436.32,221.87 436.83,220.45 437.34,219.04 437.85,217.63 438.35,216.23 438.86,214.83 439.37,213.44 439.88,212.05 440.38,210.67 440.89,209.30 441.40,207.93 441.91,206.57 442.41,205.21 442.92,203.86 443.43,202.52 443.94,201.18 444.44,199.85 444.95,198.52 445.46,197.20 445.97,195.89 446.47,194.58 446.98,193.28 447.49,191.99 448.00,190.70 448.50,189.42 449.01,188.15 449.52,186.88 450.03,185.62 450.53,184.37 451.04,183.13 451.55,181.89 452.06,180.66 452.56,179.44 453.07,178.22 453.58,177.01 454.09,175.81 454.59,174.62 455.10,173.43 455.61,172.25 456.12,171.08 456.62,169.92 457.13,168.76 457.64,167.62 458.14,166.48 458.65,165.35 459.16,164.22 459.67,163.11 460.17,162.00 460.68,160.90 461.19,159.81 461.70,158.73 462.20,157.66 462.71,156.59 463.22,155.54 463.73,154.49 464.24,153.45 464.74,152.42 465.25,151.39 465.76,150.38 466.26,149.37 466.77,148.38 467.28,147.39 467.79,146.41 468.29,145.44 468.80,144.48 469.31,143.53 469.82,142.58 470.32,141.65 470.83,140.73 471.34,139.81 471.85,138.90 472.36,138.01 472.86,137.12 473.37,136.24 473.88,135.37 474.38,134.51 474.89,133.66 475.40,132.82 475.91,131.99 476.42,131.17 476.92,130.35 477.43,129.55 477.94,128.76 478.45,127.97 478.95,127.20 479.46,126.43 479.97,125.68 480.48,124.93 480.98,124.20 481.49,123.47 482.00,122.76 482.50,122.05 483.01,121.36 483.52,120.67 484.03,119.99 484.54,119.33 485.04,118.67 485.55,118.03 486.06,117.39 486.57,116.76 487.07,116.15 487.58,115.54 488.09,114.95 488.60,114.36 489.10,113.78 489.61,113.22 490.12,112.66 490.62,112.12 491.13,111.58 491.64,111.06 492.15,110.54 492.66,110.04 493.16,109.55 493.67,109.06 494.18,108.59 494.69,108.12 495.19,107.67 495.70,107.23 496.21,106.79 496.72,106.37 497.22,105.96 497.73,105.56 498.24,105.17 498.75,104.79 499.25,104.41 499.76,104.05 500.27,103.70 500.78,103.36 501.28,103.03 501.79,102.71 502.30,102.41 502.81,102.11 503.31,101.82 503.82,101.54 504.33,101.27 504.84,101.01 505.34,100.77 505.85,100.53" fill="none" stroke="#66e81a" stroke-width="4.2" stroke-linejoin="round" stroke-linecap="square"/><path d="M99.85 296.5v-5M120.15 296.5v-3M140.45 296.5v-3M160.75 296.5v-3M181.05 296.5v-3M201.35 296.5v-5M221.65 296.5v-3M241.95 296.5v-3M262.25 296.5v-3M282.55 296.5v-3M302.85 296.5v-5M323.15 296.5v-3M343.45 296.5v-3M363.75 296.5v-3M384.05 296.5v-3M404.35 296.5v-5M424.65 296.5v-3M444.95 296.5v-3M465.25 296.5v-3M485.55 296.5v-3M505.85 296.5v-5M91.3 283.55h5M91.3 271.79h3M91.3 260.02h3M91.3 248.25h3M91.3 236.49h5M91.3 224.73h3M91.3 212.96h3M91.3 201.19h3M91.3 189.43h5M91.3 177.67h3M91.3 165.90h3M91.3 154.13h3M91.3 142.37h5M91.3 130.60h3M91.3 118.84h3M91.3 107.07h3M91.3 95.31h5M91.3 83.54h3M91.3 71.78h3M91.3 60.01h3M91.3 48.25h5" stroke="#3d4444" stroke-width="1.05" fill="none"/><path d="M99.85 35.2v4.5M120.15 35.2v2.5M140.45 35.2v2.5M160.75 35.2v2.5M181.05 35.2v2.5M201.35 35.2v4.5M221.65 35.2v2.5M241.95 35.2v2.5M262.25 35.2v2.5M282.55 35.2v2.5M302.85 35.2v4.5M323.15 35.2v2.5M343.45 35.2v2.5M363.75 35.2v2.5M384.05 35.2v2.5M404.35 35.2v4.5M424.65 35.2v2.5M444.95 35.2v2.5M465.25 35.2v2.5M485.55 35.2v2.5M505.85 35.2v4.5M514.3 283.55h-4.5M514.3 271.79h-2.5M514.3 260.02h-2.5M514.3 248.25h-2.5M514.3 236.49h-4.5M514.3 224.73h-2.5M514.3 212.96h-2.5M514.3 201.19h-2.5M514.3 189.43h-4.5M514.3 177.67h-2.5M514.3 165.90h-2.5M514.3 154.13h-2.5M514.3 142.37h-4.5M514.3 130.60h-2.5M514.3 118.84h-2.5M514.3 107.07h-2.5M514.3 95.31h-4.5M514.3 83.54h-2.5M514.3 71.78h-2.5M514.3 60.01h-2.5M514.3 48.25h-4.5" stroke="#687070" stroke-width="0.95" fill="none"/><rect x="91.3" y="35.2" width="423.00" height="261.30" fill="none" stroke="#3d4444" stroke-width="1.35"/><g font-family="Liberation Sans, Arial, sans-serif" font-weight="bold" font-size="22.5" fill="#2e3636" stroke="#2e3636" stroke-width="0.45"><text x="87.6" y="290.25" text-anchor="end">0.0</text><text x="87.6" y="243.19" text-anchor="end">0.2</text><text x="87.6" y="196.13" text-anchor="end">0.4</text><text x="87.6" y="149.07" text-anchor="end">0.6</text><text x="87.6" y="102.01" text-anchor="end">0.8</text><text x="87.6" y="54.95" text-anchor="end">1.0</text><text x="99.85" y="320.5" text-anchor="middle">−0.2</text><text x="201.35" y="320.5" text-anchor="middle">−0.1</text><text x="302.85" y="320.5" text-anchor="middle">0.0</text><text x="404.35" y="320.5" text-anchor="middle">0.1</text><text x="505.85" y="320.5" text-anchor="middle">0.2</text></g><text x="303.3" y="15.6" text-anchor="middle" font-family="Liberation Sans, Arial, sans-serif" font-weight="bold" font-size="22.5" fill="#2e3636" stroke="#2e3636" stroke-width="0.3">N = 2 j = 26</text><text x="304" y="353.8" text-anchor="middle" font-family="Liberation Serif, serif" font-style="italic" font-weight="bold" font-size="26" fill="#2e3636" stroke="#2e3636" stroke-width="0.7">ϕ</text><g font-family="Liberation Sans, DejaVu Sans, sans-serif" font-weight="bold" fill="#2e3636" stroke="#2e3636" stroke-width="0.3"><text transform="translate(24.00,229.50) rotate(-90)" text-anchor="middle" font-size="21.5">|</text><text transform="translate(25.75,218.50) rotate(-90)" text-anchor="middle" font-size="24.7">⟨</text><text transform="translate(24.00,206.30) rotate(-90)" text-anchor="middle" font-size="21.5">Π</text><text transform="translate(8.4,206.6) rotate(-90) scale(0.9,0.55)" text-anchor="middle" font-size="21.5" stroke-width="1.6">^</text><text transform="translate(25.75,194.10) rotate(-90)" text-anchor="middle" font-size="24.7">⟩</text><text transform="translate(24.00,183.10) rotate(-90)" text-anchor="middle" font-size="21.5">|</text><text transform="translate(13.00,173.40) rotate(-90)" text-anchor="middle" font-size="14.5">(</text><text transform="translate(13.00,165.60) rotate(-90)" text-anchor="middle" font-size="14.5" font-style="italic">q</text><text transform="translate(13.00,160.30) rotate(-90)" text-anchor="middle" font-size="14.5">)</text><text transform="translate(28.2,171.8) rotate(-90) scale(0.6,0.6)" text-anchor="middle" font-size="21.5">^</text><text transform="translate(42.70,171.60) rotate(-90)" text-anchor="middle" font-size="16" font-style="italic">J</text><text transform="translate(46.00,164.25) rotate(-90)" text-anchor="middle" font-size="13.5" font-style="italic">z</text><text transform="translate(42.50,155.25) rotate(-90)" text-anchor="middle" font-size="14">−</text><text transform="translate(42.50,146.40) rotate(-90)" text-anchor="middle" font-size="14.5">o</text><text transform="translate(42.50,136.90) rotate(-90)" text-anchor="middle" font-size="14.5">p</text><text transform="translate(42.50,113.20) rotate(-90)" text-anchor="middle" font-size="15.5">ACS</text></g></svg></body></html>
